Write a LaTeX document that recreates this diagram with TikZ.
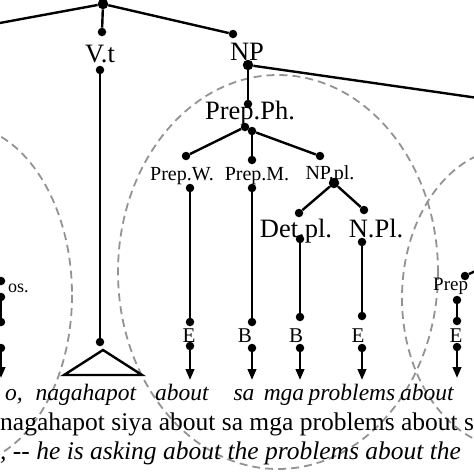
\documentclass[tikz,border=0pt]{standalone}
\usepackage{fontspec}
\setmainfont{Liberation Serif}
\usetikzlibrary{arrows.meta, positioning, calc}

\begin{document}
\begin{tikzpicture}[
    x=1pt, y=-1pt,
    dot/.style={circle, fill, inner sep=0pt, minimum size=8.5pt},
    bigdot/.style={circle, fill, inner sep=0pt, minimum size=10.5pt},
    cat/.style={font=\fontsize{26.5}{30}\selectfont, inner sep=0pt, anchor=base},
    subcat/.style={font=\fontsize{20}{24}\selectfont, inner sep=0pt, anchor=base},
    tag/.style={font=\fontsize{21}{23}\selectfont, inner sep=0pt, anchor=base},
    word/.style={font=\fontsize{23.5}{28}\selectfont\itshape, inner sep=0pt, anchor=base},
    gloss/.style={font=\fontsize{25.5}{30}\selectfont, inner sep=0pt, anchor=base west},
    branch/.style={line width=2.4pt},
    leaf/.style={line width=2.4pt, -{Triangle[length=11pt,width=8.5pt]}},
    region/.style={draw=gray!85, line width=1.8pt, dash pattern=on 8pt off 5pt}
]
\useasboundingbox (0,0) rectangle (474,474);
\clip (0,0) rectangle (474,474);

% Constituent regions
\draw[region] (278,272) ellipse [x radius=160, y radius=197];
\draw[region] (-40,295) ellipse [x radius=112, y radius=170];
\draw[region] (512,298) ellipse [x radius=110, y radius=150];

% Top of the tree
\node[bigdot] (s) at (103,4) {};
\coordinate (sleft) at (-60,34);
\node[dot] (vt) at (102,32) {};
\node[cat] (vtl) at (100,62) {V.t};
\node[dot] (vtb) at (100,70) {};
\node[dot] (vte) at (100,342) {};
\coordinate (tri) at (103,350);
\coordinate (trl) at (64,375);
\coordinate (trr) at (142,375);

\node[dot] (np) at (233,34) {};
\node[cat] (npl) at (247,60) {NP};
\node[bigdot] (npb) at (248,65) {};
\coordinate (npr) at (520,104);

% Prepositional phrase
\node[dot] (pp) at (248,104) {};
\node[cat] (ppl) at (250,119) {Prep.Ph.};
\node[dot] (ppa) at (245,127) {};
\node[dot] (ppb) at (252,131) {};

\node[dot] (pw) at (186,156) {};
\node[subcat] (pwl) at (182,180) {Prep.W.};
\node[dot] (pwb) at (190,188) {};

\node[dot] (pm) at (252,160) {};
\node[subcat] (pml) at (257,180) {Prep.M.};
\node[dot] (pmb) at (252,188) {};

\node[dot] (npp) at (320,156) {};
\node[subcat] (nppl) at (330,179) {NP.pl.};
\node[bigdot] (nppb) at (334,183) {};

\node[dot] (det) at (299,213) {};
\node[cat] (detl) at (296,237) {Det.pl.};
\node[dot] (detb) at (300,239) {};

\node[dot] (n) at (364,210) {};
\node[cat] (nl) at (376,237) {N.Pl.};
\node[dot] (nb) at (362,242) {};

% Word level
\node[dot] (pwe) at (190,322) {};
\node[tag] (pwt) at (189,342) {E};
\node[dot] (pwf) at (190,346) {};
\coordinate (pww) at (190,380);

\node[dot] (pme) at (252,322) {};
\node[tag] (pmt) at (245,342) {B};
\node[dot] (pmf) at (252,348) {};
\coordinate (pmw) at (252,380);

\node[dot] (dete) at (300,317) {};
\node[tag] (dett) at (296,342) {B};
\node[dot] (detf) at (300,348) {};
\coordinate (detw) at (300,380);

\node[dot] (ne) at (362,316) {};
\node[tag] (nt) at (358,342) {E};
\node[dot] (nf) at (362,348) {};
\coordinate (nw) at (362,380);

% Right edge
\node[dot] (rp) at (465,276) {};
\coordinate (rpup) at (500,259);
\node[tag, anchor=base west, font=\fontsize{19}{21}\selectfont] (rpl) at (433,290) {Prep};
\node[dot] (rpb) at (457,300) {};
\node[dot] (rpe) at (457,321) {};
\node[tag] (rpt) at (456,342) {E};
\node[dot] (rpf) at (457,347) {};
\coordinate (rpw) at (457,378);

% Left edge
\node[dot] (lp) at (1,281) {};
\node[tag, anchor=base west, font=\fontsize{18}{20}\selectfont] (lpl) at (8,292) {os.};
\node[dot] (lpb) at (1,297) {};
\node[dot] (lpe) at (1,322) {};
\node[dot] (lpf) at (1,348) {};
\coordinate (lpw) at (1,378);

% Sentence
\node[word, anchor=base east] (w0) at (23,400) {o,};
\node[word] (w1) at (86,400) {nagahapot};
\node[word] (w2) at (182,400) {about};
\node[word] (w3) at (244,400) {sa};
\node[word] (w4) at (284,400) {mga};
\node[word] (w5) at (352,400) {problems};
\node[word, anchor=base west] (w6) at (400,400) {about};
\node[gloss] (g1) at (0,430) {nagahapot siya about sa mga problems about s};
\node[gloss, font=\fontsize{25.5}{30}\selectfont\itshape] (g2) at (0,459) {, -{}- he is asking about the problems about the};

% Branches
\draw[branch] (s) -- (sleft);
\draw[branch] (s) -- (np);
\draw[branch] (s) -- (vt);
\draw[branch] (vtb) -- (vte);
\draw[branch] (tri) -- (trl) -- (trr) -- cycle;
\draw[branch] (npb) -- (npr);
\draw[branch] (npb) -- (pp);
\draw[branch] (ppa) -- (pw);
\draw[branch] (ppb) -- (pm);
\draw[branch] (ppb) -- (npp);
\draw[branch] (nppb) -- (det);
\draw[branch] (nppb) -- (n);
\draw[branch] (pwb) -- (pwe);
\draw[branch] (pmb) -- (pme);
\draw[branch] (detb) -- (dete);
\draw[branch] (nb) -- (ne);
\draw[branch] (rp) -- (rpup);
\draw[branch] (rpb) -- (rpe);
\draw[branch] (lpb) -- (lpe);
\draw[leaf] (pwf) -- (pww);
\draw[leaf] (pmf) -- (pmw);
\draw[leaf] (detf) -- (detw);
\draw[leaf] (nf) -- (nw);
\draw[leaf] (rpf) -- (rpw);
\draw[leaf] (lpf) -- (lpw);

\end{tikzpicture}
\end{document}
